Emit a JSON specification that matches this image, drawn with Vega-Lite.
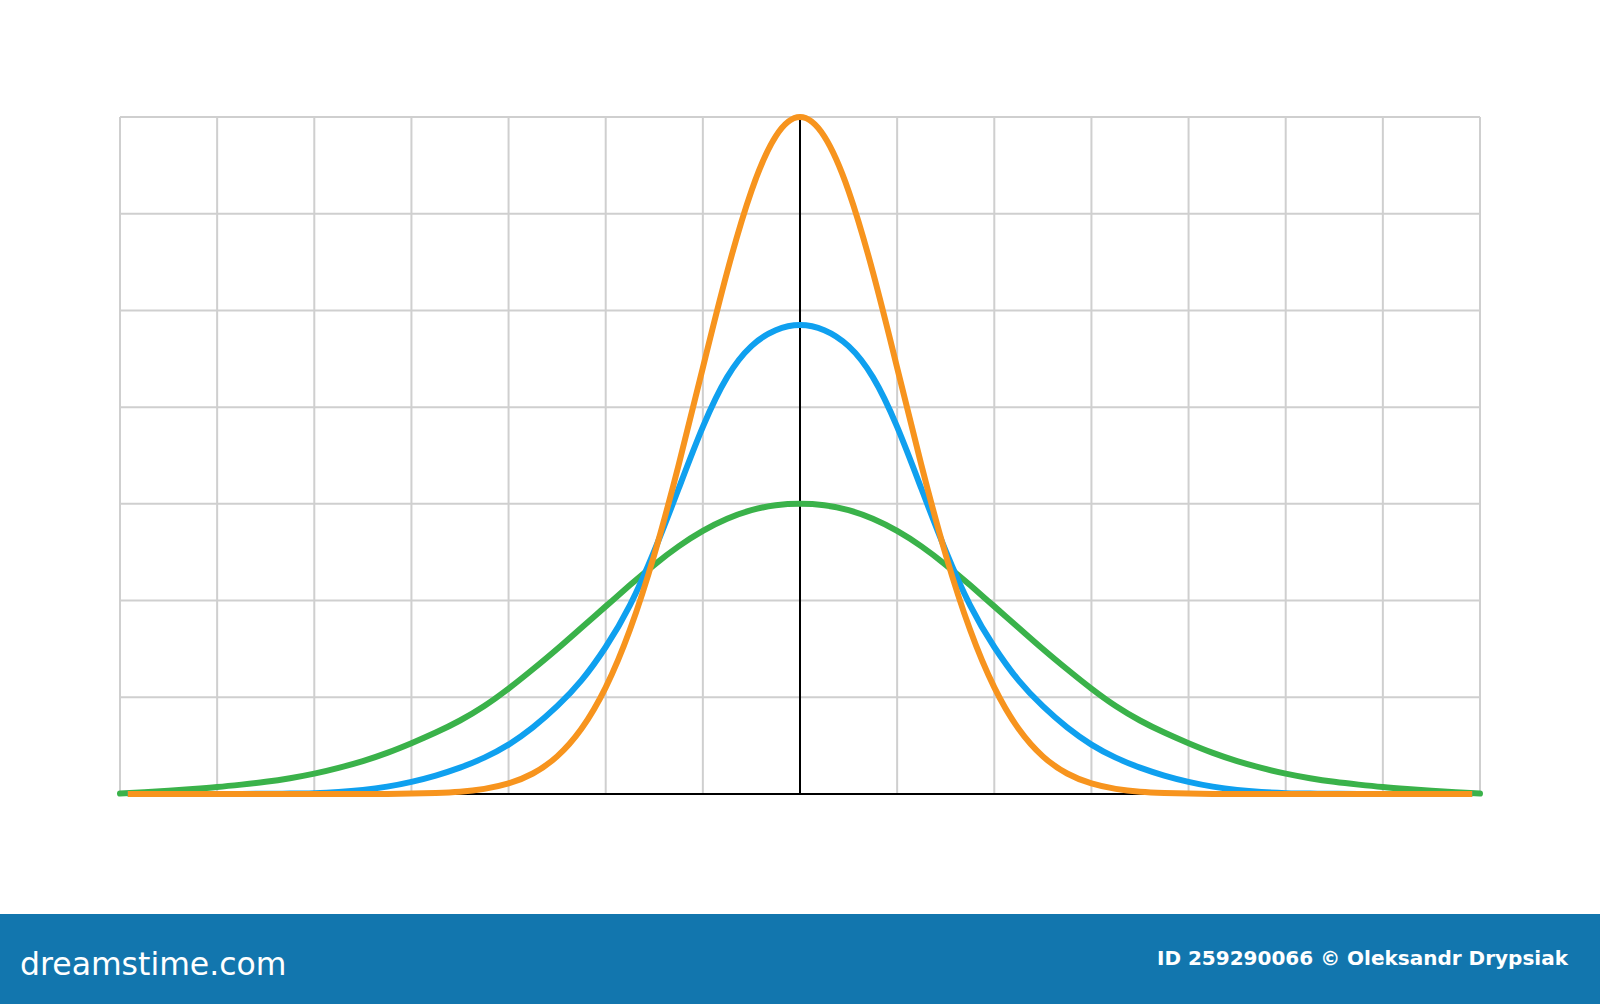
{
  "$schema": "https://vega.github.io/schema/vega-lite/v6.json",
  "background": "white",
  "padding": {"top": 114, "left": 0, "right": 0, "bottom": 0},
  "spacing": 120,
  "center": true,
  "bounds": "flush",
  "config": {"view": {"stroke": null}},
  "datasets": {
    "gridX": [{"k": -7}, {"k": -6}, {"k": -5}, {"k": -4}, {"k": -3}, {"k": -2}, {"k": -1}, {"k": 0}, {"k": 1}, {"k": 2}, {"k": 3}, {"k": 4}, {"k": 5}, {"k": 6}, {"k": 7}],
    "gridY": [{"v": 0}, {"v": 1}, {"v": 2}, {"v": 3}, {"v": 4}, {"v": 5}, {"v": 6}, {"v": 7}],
    "origin": [{"k": 0, "v": 0}],
    "curves": [
      {"curve": "wide", "x": -7, "y": 0.005}, {"curve": "wide", "x": -6.75, "y": 0.018}, {"curve": "wide", "x": -6.5, "y": 0.034}, {"curve": "wide", "x": -6.25, "y": 0.052},
      {"curve": "wide", "x": -6, "y": 0.072}, {"curve": "wide", "x": -5.75, "y": 0.097}, {"curve": "wide", "x": -5.5, "y": 0.126}, {"curve": "wide", "x": -5.25, "y": 0.163},
      {"curve": "wide", "x": -5, "y": 0.21}, {"curve": "wide", "x": -4.75, "y": 0.27}, {"curve": "wide", "x": -4.5, "y": 0.34}, {"curve": "wide", "x": -4.25, "y": 0.425},
      {"curve": "wide", "x": -4, "y": 0.525}, {"curve": "wide", "x": -3.75, "y": 0.635}, {"curve": "wide", "x": -3.5, "y": 0.76}, {"curve": "wide", "x": -3.25, "y": 0.91},
      {"curve": "wide", "x": -3, "y": 1.09}, {"curve": "wide", "x": -2.75, "y": 1.29}, {"curve": "wide", "x": -2.5, "y": 1.5}, {"curve": "wide", "x": -2.25, "y": 1.72},
      {"curve": "wide", "x": -2, "y": 1.94}, {"curve": "wide", "x": -1.75, "y": 2.16}, {"curve": "wide", "x": -1.5, "y": 2.37}, {"curve": "wide", "x": -1.25, "y": 2.56},
      {"curve": "wide", "x": -1, "y": 2.72}, {"curve": "wide", "x": -0.75, "y": 2.845}, {"curve": "wide", "x": -0.5, "y": 2.935}, {"curve": "wide", "x": -0.25, "y": 2.985},
      {"curve": "wide", "x": 0, "y": 3.0},
      {"curve": "wide", "x": 0.25, "y": 2.985}, {"curve": "wide", "x": 0.5, "y": 2.935}, {"curve": "wide", "x": 0.75, "y": 2.845}, {"curve": "wide", "x": 1, "y": 2.72},
      {"curve": "wide", "x": 1.25, "y": 2.56}, {"curve": "wide", "x": 1.5, "y": 2.37}, {"curve": "wide", "x": 1.75, "y": 2.16}, {"curve": "wide", "x": 2, "y": 1.94},
      {"curve": "wide", "x": 2.25, "y": 1.72}, {"curve": "wide", "x": 2.5, "y": 1.5}, {"curve": "wide", "x": 2.75, "y": 1.29}, {"curve": "wide", "x": 3, "y": 1.09},
      {"curve": "wide", "x": 3.25, "y": 0.91}, {"curve": "wide", "x": 3.5, "y": 0.76}, {"curve": "wide", "x": 3.75, "y": 0.635}, {"curve": "wide", "x": 4, "y": 0.525},
      {"curve": "wide", "x": 4.25, "y": 0.425}, {"curve": "wide", "x": 4.5, "y": 0.34}, {"curve": "wide", "x": 4.75, "y": 0.27}, {"curve": "wide", "x": 5, "y": 0.21},
      {"curve": "wide", "x": 5.25, "y": 0.163}, {"curve": "wide", "x": 5.5, "y": 0.126}, {"curve": "wide", "x": 5.75, "y": 0.097}, {"curve": "wide", "x": 6, "y": 0.072},
      {"curve": "wide", "x": 6.25, "y": 0.052}, {"curve": "wide", "x": 6.5, "y": 0.034}, {"curve": "wide", "x": 6.75, "y": 0.018}, {"curve": "wide", "x": 7, "y": 0.005},

      {"curve": "medium", "x": -6.92, "y": 0}, {"curve": "medium", "x": -6.75, "y": 0}, {"curve": "medium", "x": -6.5, "y": 0}, {"curve": "medium", "x": -6.25, "y": 0},
      {"curve": "medium", "x": -6, "y": 0}, {"curve": "medium", "x": -5.75, "y": 0.001}, {"curve": "medium", "x": -5.5, "y": 0.002}, {"curve": "medium", "x": -5.25, "y": 0.004},
      {"curve": "medium", "x": -5, "y": 0.009}, {"curve": "medium", "x": -4.75, "y": 0.021}, {"curve": "medium", "x": -4.5, "y": 0.042}, {"curve": "medium", "x": -4.25, "y": 0.076},
      {"curve": "medium", "x": -4, "y": 0.126}, {"curve": "medium", "x": -3.75, "y": 0.191}, {"curve": "medium", "x": -3.5, "y": 0.273}, {"curve": "medium", "x": -3.25, "y": 0.376},
      {"curve": "medium", "x": -3, "y": 0.511}, {"curve": "medium", "x": -2.75, "y": 0.689}, {"curve": "medium", "x": -2.5, "y": 0.908}, {"curve": "medium", "x": -2.25, "y": 1.175},
      {"curve": "medium", "x": -2, "y": 1.52}, {"curve": "medium", "x": -1.75, "y": 1.953}, {"curve": "medium", "x": -1.5, "y": 2.514}, {"curve": "medium", "x": -1.25, "y": 3.156},
      {"curve": "medium", "x": -1, "y": 3.796}, {"curve": "medium", "x": -0.75, "y": 4.31}, {"curve": "medium", "x": -0.5, "y": 4.631}, {"curve": "medium", "x": -0.25, "y": 4.796},
      {"curve": "medium", "x": 0, "y": 4.85},
      {"curve": "medium", "x": 0.25, "y": 4.796}, {"curve": "medium", "x": 0.5, "y": 4.631}, {"curve": "medium", "x": 0.75, "y": 4.31}, {"curve": "medium", "x": 1, "y": 3.796},
      {"curve": "medium", "x": 1.25, "y": 3.156}, {"curve": "medium", "x": 1.5, "y": 2.514}, {"curve": "medium", "x": 1.75, "y": 1.953}, {"curve": "medium", "x": 2, "y": 1.52},
      {"curve": "medium", "x": 2.25, "y": 1.175}, {"curve": "medium", "x": 2.5, "y": 0.908}, {"curve": "medium", "x": 2.75, "y": 0.689}, {"curve": "medium", "x": 3, "y": 0.511},
      {"curve": "medium", "x": 3.25, "y": 0.376}, {"curve": "medium", "x": 3.5, "y": 0.273}, {"curve": "medium", "x": 3.75, "y": 0.191}, {"curve": "medium", "x": 4, "y": 0.126},
      {"curve": "medium", "x": 4.25, "y": 0.076}, {"curve": "medium", "x": 4.5, "y": 0.042}, {"curve": "medium", "x": 4.75, "y": 0.021}, {"curve": "medium", "x": 5, "y": 0.009},
      {"curve": "medium", "x": 5.25, "y": 0.004}, {"curve": "medium", "x": 5.5, "y": 0.002}, {"curve": "medium", "x": 5.75, "y": 0.001}, {"curve": "medium", "x": 6, "y": 0},
      {"curve": "medium", "x": 6.25, "y": 0}, {"curve": "medium", "x": 6.5, "y": 0}, {"curve": "medium", "x": 6.75, "y": 0}, {"curve": "medium", "x": 6.92, "y": 0},

      {"curve": "narrow", "x": -6.92, "y": 0}, {"curve": "narrow", "x": -6.75, "y": 0}, {"curve": "narrow", "x": -6.5, "y": 0}, {"curve": "narrow", "x": -6.25, "y": 0},
      {"curve": "narrow", "x": -6, "y": 0}, {"curve": "narrow", "x": -5.75, "y": 0}, {"curve": "narrow", "x": -5.5, "y": 0}, {"curve": "narrow", "x": -5.25, "y": 0},
      {"curve": "narrow", "x": -5, "y": 0}, {"curve": "narrow", "x": -4.75, "y": 0}, {"curve": "narrow", "x": -4.5, "y": 0}, {"curve": "narrow", "x": -4.25, "y": 0.001},
      {"curve": "narrow", "x": -4, "y": 0.004}, {"curve": "narrow", "x": -3.75, "y": 0.011}, {"curve": "narrow", "x": -3.5, "y": 0.024}, {"curve": "narrow", "x": -3.25, "y": 0.053},
      {"curve": "narrow", "x": -3, "y": 0.109}, {"curve": "narrow", "x": -2.75, "y": 0.212}, {"curve": "narrow", "x": -2.5, "y": 0.389}, {"curve": "narrow", "x": -2.25, "y": 0.674},
      {"curve": "narrow", "x": -2, "y": 1.102}, {"curve": "narrow", "x": -1.75, "y": 1.7}, {"curve": "narrow", "x": -1.5, "y": 2.474}, {"curve": "narrow", "x": -1.25, "y": 3.4},
      {"curve": "narrow", "x": -1, "y": 4.408}, {"curve": "narrow", "x": -0.75, "y": 5.397}, {"curve": "narrow", "x": -0.5, "y": 6.236}, {"curve": "narrow", "x": -0.25, "y": 6.8},
      {"curve": "narrow", "x": 0, "y": 7.0},
      {"curve": "narrow", "x": 0.25, "y": 6.8}, {"curve": "narrow", "x": 0.5, "y": 6.236}, {"curve": "narrow", "x": 0.75, "y": 5.397}, {"curve": "narrow", "x": 1, "y": 4.408},
      {"curve": "narrow", "x": 1.25, "y": 3.4}, {"curve": "narrow", "x": 1.5, "y": 2.474}, {"curve": "narrow", "x": 1.75, "y": 1.7}, {"curve": "narrow", "x": 2, "y": 1.102},
      {"curve": "narrow", "x": 2.25, "y": 0.674}, {"curve": "narrow", "x": 2.5, "y": 0.389}, {"curve": "narrow", "x": 2.75, "y": 0.212}, {"curve": "narrow", "x": 3, "y": 0.109},
      {"curve": "narrow", "x": 3.25, "y": 0.053}, {"curve": "narrow", "x": 3.5, "y": 0.024}, {"curve": "narrow", "x": 3.75, "y": 0.011}, {"curve": "narrow", "x": 4, "y": 0.004},
      {"curve": "narrow", "x": 4.25, "y": 0.001}, {"curve": "narrow", "x": 4.5, "y": 0}, {"curve": "narrow", "x": 4.75, "y": 0}, {"curve": "narrow", "x": 5, "y": 0},
      {"curve": "narrow", "x": 5.25, "y": 0}, {"curve": "narrow", "x": 5.5, "y": 0}, {"curve": "narrow", "x": 5.75, "y": 0}, {"curve": "narrow", "x": 6, "y": 0},
      {"curve": "narrow", "x": 6.25, "y": 0}, {"curve": "narrow", "x": 6.5, "y": 0}, {"curve": "narrow", "x": 6.75, "y": 0}, {"curve": "narrow", "x": 6.92, "y": 0}
    ],
    "credits": [
      {"role": "site", "text": "dreamstime.com"},
      {"role": "id", "text": "ID 259290066 © Oleksandr Drypsiak"}
    ]
  },
  "vconcat": [
    {
      "width": 1360,
      "height": 677,
      "layer": [
        {
          "data": {"name": "gridX"},
          "mark": {"type": "rule", "color": "#cfcfcf", "strokeWidth": 2},
          "encoding": {
            "x": {"field": "k", "type": "quantitative", "scale": {"domain": [-7, 7], "nice": false, "zero": false}, "axis": null},
            "y": {"datum": 0, "type": "quantitative", "scale": {"domain": [0, 7], "nice": false, "zero": false}, "axis": null},
            "y2": {"datum": 7}
          }
        },
        {
          "data": {"name": "gridY"},
          "mark": {"type": "rule", "color": "#cfcfcf", "strokeWidth": 2},
          "encoding": {
            "y": {"field": "v", "type": "quantitative"},
            "x": {"datum": -7, "type": "quantitative"},
            "x2": {"datum": 7}
          }
        },
        {
          "data": {"name": "origin"},
          "mark": {"type": "rule", "color": "#000000", "strokeWidth": 2},
          "encoding": {
            "x": {"field": "k", "type": "quantitative"},
            "y": {"datum": 0, "type": "quantitative"},
            "y2": {"datum": 7}
          }
        },
        {
          "data": {"name": "origin"},
          "mark": {"type": "rule", "color": "#000000", "strokeWidth": 2},
          "encoding": {
            "y": {"field": "v", "type": "quantitative"},
            "x": {"datum": -7, "type": "quantitative"},
            "x2": {"datum": 7}
          }
        },
        {
          "data": {"name": "curves"},
          "transform": [{"filter": "datum.curve === 'wide'"}],
          "mark": {"type": "line", "interpolate": "natural", "color": "#3ab24a", "strokeWidth": 6, "strokeCap": "round", "strokeJoin": "round"},
          "encoding": {
            "x": {"field": "x", "type": "quantitative"},
            "y": {"field": "y", "type": "quantitative"}
          }
        },
        {
          "data": {"name": "curves"},
          "transform": [{"filter": "datum.curve === 'medium'"}],
          "mark": {"type": "line", "interpolate": "natural", "color": "#0fa0ef", "strokeWidth": 6, "strokeCap": "butt", "strokeJoin": "round"},
          "encoding": {
            "x": {"field": "x", "type": "quantitative"},
            "y": {"field": "y", "type": "quantitative"}
          }
        },
        {
          "data": {"name": "curves"},
          "transform": [{"filter": "datum.curve === 'narrow'"}],
          "mark": {"type": "line", "interpolate": "natural", "color": "#f7941e", "strokeWidth": 6, "strokeCap": "butt", "strokeJoin": "round"},
          "encoding": {
            "x": {"field": "x", "type": "quantitative"},
            "y": {"field": "y", "type": "quantitative"}
          }
        }
      ]
    },
    {
      "width": 1600,
      "height": 90,
      "view": {"fill": "#1276ae", "stroke": null},
      "data": {"name": "credits"},
      "layer": [
        {
          "transform": [{"filter": "datum.role === 'site'"}],
          "mark": {"type": "text", "align": "left", "baseline": "alphabetic", "font": "DejaVu Sans", "fontSize": 31.5, "color": "#ffffff"},
          "encoding": {
            "x": {"datum": 0.0125, "type": "quantitative", "scale": {"domain": [0, 1], "nice": false, "zero": false}, "axis": null},
            "y": {"datum": 0.322, "type": "quantitative", "scale": {"domain": [0, 1], "nice": false, "zero": false}, "axis": null},
            "text": {"field": "text"}
          }
        },
        {
          "transform": [{"filter": "datum.role === 'id'"}],
          "mark": {"type": "text", "align": "right", "baseline": "alphabetic", "font": "DejaVu Sans", "fontWeight": "bold", "fontSize": 20, "color": "#ffffff"},
          "encoding": {
            "x": {"datum": 0.98, "type": "quantitative"},
            "y": {"datum": 0.433, "type": "quantitative"},
            "text": {"field": "text"}
          }
        }
      ]
    }
  ]
}
